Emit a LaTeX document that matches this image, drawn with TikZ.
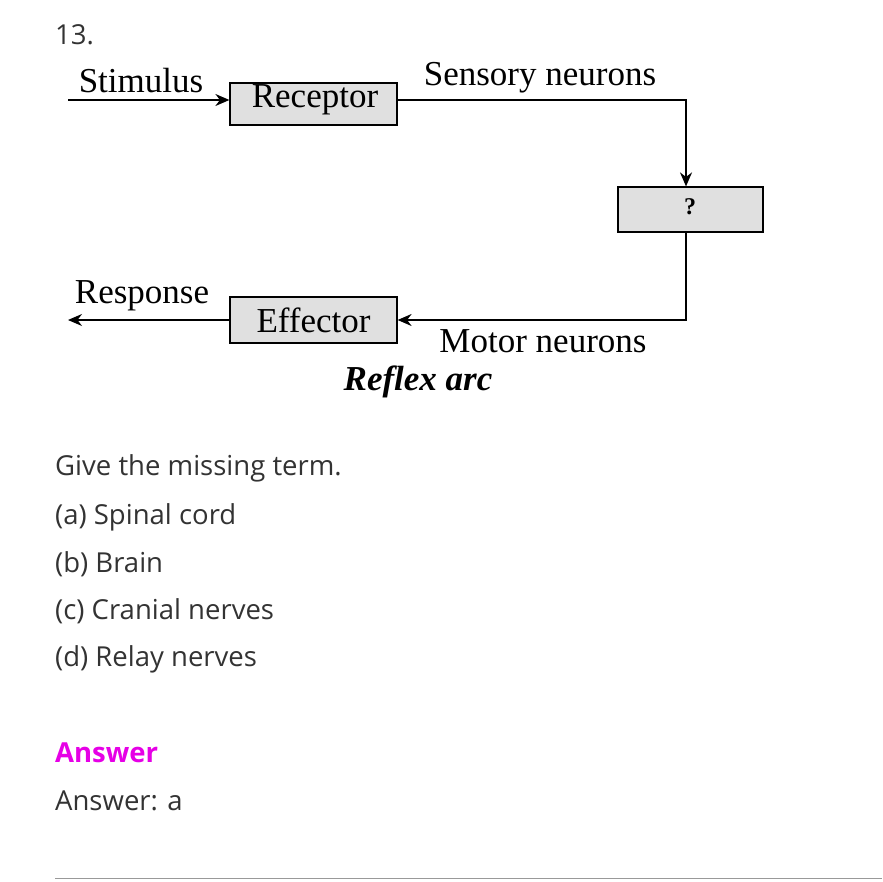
\documentclass[tikz,border=0pt]{standalone}
\usepackage{fontspec}
\setmainfont{Liberation Serif}
\newfontfamily\sansf{Open Sans}[Scale=1]
\usetikzlibrary{arrows.meta}
\begin{document}
\begin{tikzpicture}[x=1pt,y=-1pt,
  lbl/.style={font=\fontsize{35}{38}\selectfont,inner sep=0},
  txt/.style={font=\sansf\fontsize{27.5}{30}\selectfont,anchor=west,inner sep=0,text=black!80},
  box/.style={draw,line width=1.2pt,fill=black!12,minimum width=167pt,inner sep=0},
  ln/.style={line width=1.6pt},
  arr/.style={ln,-{Stealth[length=14pt,width=12pt]}}]
\useasboundingbox (0,0) rectangle (882,882);
\node[txt] (n13) at (55,35) {13.};
\node[box,minimum height=42pt] (rec) at (313.5,104) {};
\node[lbl] at (315,100) {Receptor};
\node[box,minimum width=145pt,minimum height=45pt] (cns) at (690.5,209.5) {};
\node[font=\fontsize{24}{26}\selectfont\bfseries] at (690,207) {?};
\node[box,minimum height=46pt] (eff) at (313.5,320) {};
\node[lbl] at (313.5,320) {Effector};
\coordinate (s0) at (68,100);
\coordinate (r0) at (68,320);
\coordinate (c1) at (686,100);
\coordinate (c2) at (686,320);
\draw[arr] (s0) -- (rec.west |- s0);
\draw[arr] (rec.east |- c1) -- (c1) -- (cns.north -| c1);
\draw[arr] (cns.south -| c2) -- (c2) -- (eff.east |- c2);
\draw[arr] (eff.west |- r0) -- (r0);
\node[lbl] (st) at (141,81) {Stimulus};
\node[lbl] (rs) at (142,296) {Response};
\node[lbl] (sn) at (540,78) {Sensory neurons};
\node[lbl] (mn) at (543,341) {Motor neurons};
\node[lbl,font=\fontsize{35}{38}\selectfont\bfseries\itshape] (ra) at (418,382) {Reflex arc};
\node[txt] (q) at (55,468) {Give the missing term.};
\node[txt] (a) at (55,517) {(a) Spinal cord};
\node[txt] (b) at (55,564) {(b) Brain};
\node[txt] (c) at (55,611) {(c) Cranial nerves};
\node[txt] (d) at (55,659) {(d) Relay nerves};
\node[txt,font=\sansf\bfseries\fontsize{27.5}{30}\selectfont,text={rgb,255:red,230;green,0;blue,230}] (ans) at (55,753) {Answer};
\node[txt] (aa) at (55,801) {Answer: a};
\draw[black!40,line width=0.8pt] (55,878) -- (882,878);
\end{tikzpicture}
\end{document}
